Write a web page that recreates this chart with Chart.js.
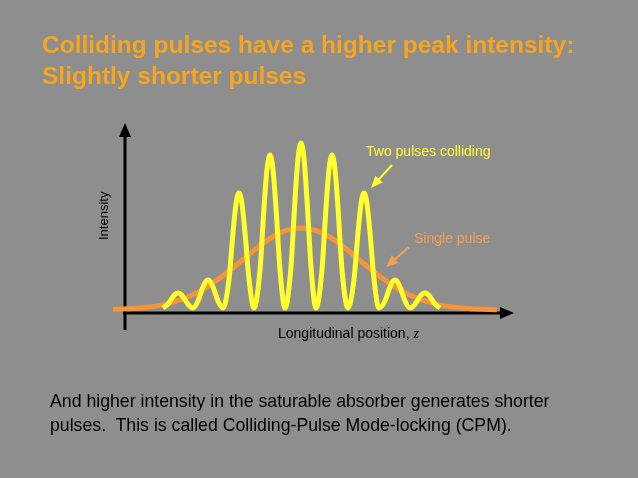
<!DOCTYPE html>
<html><head><meta charset="utf-8">
<script src="https://cdn.jsdelivr.net/npm/chart.js@4"></script>
<style>
html,body{margin:0;padding:0;background:#8e8e8e;width:638px;height:478px;overflow:hidden;font-family:"Liberation Sans",Arial,sans-serif}
#wrap{position:absolute;left:0;top:0;width:638px;height:478px}
.t{position:absolute;white-space:nowrap}
</style></head><body>
<div id="wrap"><canvas id="c" width="638" height="478"></canvas></div>
<div class="t" style="left:42px;top:29px;font-size:24.5px;font-weight:bold;color:#f7a51e;line-height:31px">Colliding pulses have a higher peak intensity:<br>Slightly shorter pulses</div>
<div class="t" style="left:366px;top:143px;font-size:14px;color:#ffff33">Two pulses colliding</div>
<div class="t" style="left:414px;top:230px;font-size:14px;color:#f7a04a">Single pulse</div>
<div class="t" style="left:96px;top:240px;font-size:13px;color:#000;transform:rotate(-90deg);transform-origin:0 0">Intensity</div>
<div class="t" style="left:278px;top:325px;font-size:14px;color:#000">Longitudinal position, <i style="font-family:'Liberation Serif',serif">z</i></div>
<div class="t" style="left:50px;top:389px;font-size:17.7px;color:#000;line-height:24px">And higher intensity in the saturable absorber generates shorter<br>pulses.&nbsp; This is called Colliding-Pulse Mode-locking (CPM).</div>
<script>
const orangeX=[113,141,161,181,201,221,241,261,281,301,321,341,361,381,401,421,441,461,489,497];
const orangeY=[0.5,2.0,4.9,10.4,19.4,32.7,48.7,65.2,77.6,82,77.6,65.2,48.7,32.7,19.4,10.4,4.9,2.0,0.5,0.3];
const yellowX=[163,168,172,175,178,181,184,188,193,198,202,205,208,211,214,218,223,229,233,236,239,242,245,249,254,260,264,267,270,273,276,280,285,291,295,298,301,304,307,311,316,322,326,329,332,335,338,342,348,354,358,361,364,367,370,374,379,385,389,392,395,398,401,405,410,415,419,422,425,428,431,435,440];
const yellowY=[2,5.8,11.8,15.6,17,15.6,11.8,5.8,2,9,20.3,27.3,30,27.3,20.3,9,2,30.8,77.3,106,117,106,77.3,30.8,2,40.3,102.2,140.5,155,140.5,102.2,40.3,2,43.3,110,151.3,167,151.3,110,43.3,2,40.3,102.2,140.5,155,140.5,102.2,40.3,2,30.8,77.3,106,117,106,77.3,30.8,2,9,20.3,27.3,30,27.3,20.3,9,2,5.8,11.8,15.6,17,15.6,11.8,5.8,2];
function arrow(ctx,x1,y1,x2,y2,color,w,hl,hw){
  const a=Math.atan2(y2-y1,x2-x1);
  ctx.strokeStyle=color;ctx.fillStyle=color;ctx.lineWidth=w;
  ctx.beginPath();ctx.moveTo(x1,y1);ctx.lineTo(x2-Math.cos(a)*hl*0.8,y2-Math.sin(a)*hl*0.8);ctx.stroke();
  ctx.beginPath();ctx.moveTo(x2,y2);
  ctx.lineTo(x2-hl*Math.cos(a)+hw*Math.sin(a),y2-hl*Math.sin(a)-hw*Math.cos(a));
  ctx.lineTo(x2-hl*Math.cos(a)-hw*Math.sin(a),y2-hl*Math.sin(a)+hw*Math.cos(a));
  ctx.closePath();ctx.fill();
}
const deco={id:'deco',beforeDatasetsDraw(ch){
  const c=ch.ctx,xs=ch.scales.x,ys=ch.scales.y;
  const X=v=>xs.getPixelForValue(v),Y=v=>ys.getPixelForValue(v);
  c.save();
  arrow(c,X(123),Y(-3),X(514),Y(-3),'#000',3,14,6);
  arrow(c,X(125),Y(-20),X(125),Y(187),'#000',3,14,6);
  c.restore();
},afterDatasetsDraw(ch){
  const c=ch.ctx,xs=ch.scales.x,ys=ch.scales.y;
  const X=v=>xs.getPixelForValue(v),Y=v=>ys.getPixelForValue(v);
  c.save();
  arrow(c,X(392),Y(145),X(371),Y(122),'#ffff33',2,12,5);
  arrow(c,X(409),Y(63),X(386),Y(43),'#f7a04a',2,12,5);
  c.restore();
}};
new Chart(document.getElementById('c'),{
  type:'scatter',
  data:{datasets:[
    {data:orangeX.map((x,i)=>({x,y:orangeY[i]})),showLine:true,borderColor:'#f5953a',borderWidth:5,pointRadius:0,cubicInterpolationMode:'monotone',order:2},
    {data:yellowX.map((x,i)=>({x,y:yellowY[i]})),showLine:true,borderColor:'#ffff2e',borderWidth:5,pointRadius:0,cubicInterpolationMode:'monotone',order:1}
  ]},
  options:{responsive:false,animation:false,devicePixelRatio:1,
    layout:{padding:{left:100,right:118,top:110,bottom:150}},
    plugins:{legend:{display:false},tooltip:{enabled:false}},
    scales:{x:{type:'linear',min:100,max:520,display:false},y:{min:-18,max:200,display:false}}
  },
  plugins:[deco]
});
</script></body></html>
